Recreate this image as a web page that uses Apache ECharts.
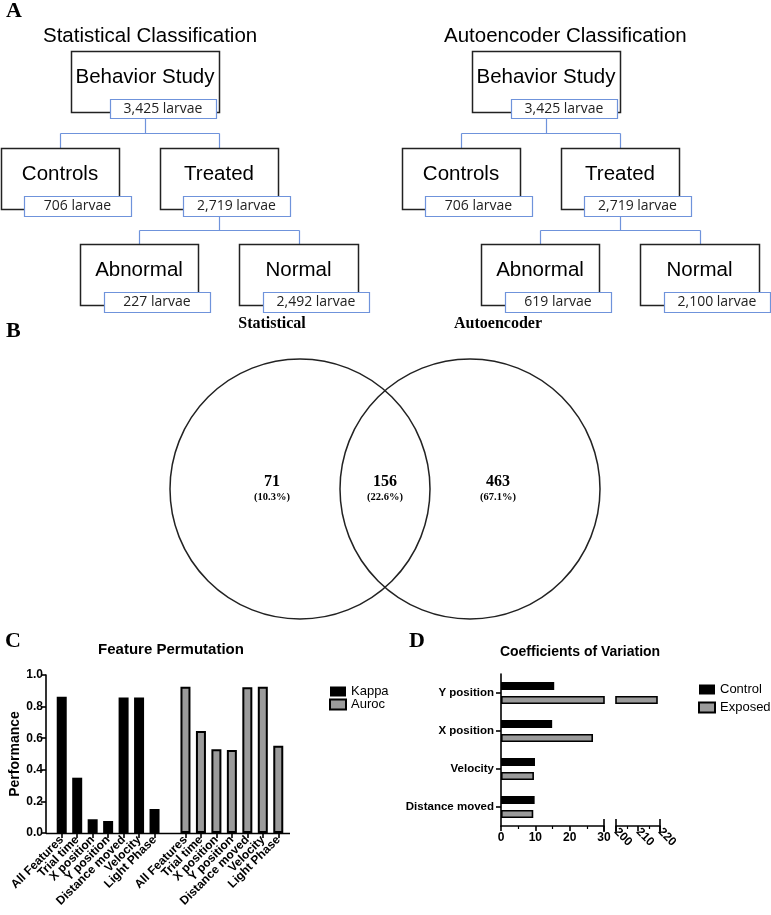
<!DOCTYPE html>
<html><head><meta charset="utf-8">
<script src="https://cdn.jsdelivr.net/npm/echarts@6/dist/echarts.min.js"></script>
<style>html,body{margin:0;padding:0;background:#fff}#c{width:771px;height:915px}</style>
</head><body><div id="c"></div>
<script>
// ---------- Panel A data ----------
const flowTitles = ['Statistical Classification', 'Autoencoder Classification'];
const nodeNames = ['Behavior Study', 'Controls', 'Treated', 'Abnormal', 'Normal'];
const statisticalCounts = ['3,425', '706', '2,719', '227', '2,492'];
const autoencoderCounts = ['3,425', '706', '2,719', '619', '2,100'];
const countUnit = 'larvae';
// ---------- Panel B data ----------
const vennSets = ['Statistical', 'Autoencoder'];
const vennCounts = [71, 156, 463];
const vennPercents = ['10.3%', '22.6%', '67.1%'];
// ---------- Panel C data ----------
const featureLabels = ['All Features', 'Trial time', 'X position', 'Y position', 'Distance moved', 'Velocity', 'Light Phase'];
const kappaValues = [0.863, 0.35, 0.087, 0.076, 0.858, 0.858, 0.152];
const aurocValues = [0.925, 0.645, 0.53, 0.525, 0.922, 0.925, 0.553];
// ---------- Panel D data ----------
const cvCategories = ['Y position', 'X position', 'Velocity', 'Distance moved'];
const controlCV = [15.5, 14.9, 9.9, 9.8];
const exposedCV = [219, 26.8, 9.6, 9.4];

// ---------- layout / style ----------
const SANS = '"Liberation Sans", Arial, sans-serif';
const SERIF = '"Liberation Serif", "Times New Roman", serif';
const BLUE = '#6f93db';
const GRAY = '#9b9b9b';
const nodeLayout = [
  {x: 71, y: 51, w: 148, h: 61, lx: 110, ly: 99, lw: 106, lh: 19},
  {x: 1, y: 148, w: 118, h: 61, lx: 24, ly: 196, lw: 107, lh: 20},
  {x: 160, y: 148, w: 118, h: 61, lx: 183, ly: 196, lw: 107, lh: 20},
  {x: 80, y: 244, w: 118, h: 61, lx: 104, ly: 292, lw: 106, lh: 20},
  {x: 239, y: 244, w: 119, h: 61, lx: 263, ly: 292, lw: 106, lh: 20}
];
const treeEdges = [[0, 1, 2], [2, 3, 4]];
const panelX = [0, 401];
const vennLayout = {cx: [300, 470], cy: 489, r: 130, labelX: [272, 385, 498], setLabelY: 324};

const g = [];
function txt(x, y, text, font, align, valign, fill) {
  align = align || 'center'; valign = valign || 'middle';
  g.push({type: 'text', x: x, y: y, silent: true, z: 10,
    style: {text: text, font: font, fill: fill || '#000', align: align, verticalAlign: valign,
            textAlign: align, textVerticalAlign: valign}});
}
function line(x1, y1, x2, y2, stroke, w, z) {
  g.push({type: 'line', silent: true, z: z || 5, shape: {x1: x1, y1: y1, x2: x2, y2: y2},
    style: {stroke: stroke, lineWidth: w}});
}
function rect(x, y, w, h, fill, stroke, lw, z) {
  g.push({type: 'rect', silent: true, z: z || 5, shape: {x: x, y: y, width: w, height: h},
    style: {fill: fill, stroke: stroke, lineWidth: lw}});
}

// Panel letters
txt(6, 11, 'A', 'bold 22px ' + SERIF, 'left');
txt(6, 331, 'B', 'bold 22px ' + SERIF, 'left');
txt(5, 641, 'C', 'bold 22px ' + SERIF, 'left');
txt(409, 641, 'D', 'bold 22px ' + SERIF, 'left');

// Panel A flowcharts
const allCounts = [statisticalCounts, autoencoderCounts];
panelX.forEach(function (ox, p) {
  txt(43 + ox, 36, flowTitles[p], '20.5px ' + SANS, 'left');
  treeEdges.forEach(function (e) {
    const P = nodeLayout[e[0]], A = nodeLayout[e[1]], B = nodeLayout[e[2]];
    const px = Math.round(ox + P.x + P.w / 2) + 0.5, top = P.ly + P.lh;
    const ax = Math.round(ox + A.x + A.w / 2) + 0.5, bx = Math.round(ox + B.x + B.w / 2) + 0.5;
    const cy = Math.round((top + A.y) / 2) + 0.5;
    line(px, top, px, cy, BLUE, 1.2);
    line(ax, cy, bx, cy, BLUE, 1.2);
    line(ax, cy, ax, A.y, BLUE, 1.2);
    line(bx, cy, bx, B.y, BLUE, 1.2);
  });
  nodeLayout.forEach(function (n, i) {
    rect(ox + n.x + 0.5, n.y + 0.5, n.w, n.h, '#fff', '#222', 1.5, 6);
    txt(ox + n.x + n.w / 2, n.y + 26, nodeNames[i], '20.5px ' + SANS);
    rect(ox + n.lx + 0.5, n.ly + 0.5, n.lw, n.lh, '#fff', BLUE, 1.2, 8);
    txt(ox + n.lx + n.lw / 2, n.ly + n.lh / 2 + 0.5, allCounts[p][i] + ' ' + countUnit, '14px "Open Sans", ' + SANS, 'center', 'middle', '#222');
  });
});

// Panel B Venn
vennLayout.cx.forEach(function (cx) {
  g.push({type: 'circle', silent: true, z: 5, shape: {cx: cx, cy: vennLayout.cy, r: vennLayout.r},
    style: {fill: 'none', stroke: '#222', lineWidth: 1.5}});
});
txt(vennLayout.labelX[0], vennLayout.setLabelY, vennSets[0], 'bold 16px ' + SERIF);
txt(vennLayout.labelX[2], vennLayout.setLabelY, vennSets[1], 'bold 16px ' + SERIF);
vennCounts.forEach(function (c, i) {
  txt(vennLayout.labelX[i], 482, String(c), 'bold 16px ' + SERIF);
  txt(vennLayout.labelX[i], 497, '(' + vennPercents[i] + ')', 'bold 10.5px ' + SERIF);
});

// Panel C / D titles
txt(171, 650, 'Feature Permutation', 'bold 15px ' + SANS);
txt(580, 652, 'Coefficients of Variation', 'bold 14px ' + SANS);
// C x axis baseline (spans from y axis to end)
line(46, 833.5, 290, 833.5, '#000', 1.6, 20);
// D axis break caps
[604, 616, 660].forEach(function (x) { line(x, 819, x, 832, '#000', 1.6, 20); });

const emptyC = featureLabels.map(function () { return '-'; });
const catC = featureLabels.map(function (f) { return 'K:' + f; }).concat([' '], featureLabels.map(function (f) { return 'A:' + f; }));

const axisLabelStyle = {color: '#000', fontFamily: SANS, fontWeight: 'bold', fontSize: 12};
const blackLine = {color: '#000', width: 1.6};

const option = {
  animation: false,
  backgroundColor: '#fff',
  graphic: {elements: g},
  legend: [
    {data: ['Kappa', 'Auroc'], orient: 'vertical', left: 324, top: 680, itemWidth: 16, itemHeight: 10, itemGap: 0,
     icon: 'rect', textStyle: {color: '#000', fontFamily: SANS, fontSize: 13, lineHeight: 12}, selectedMode: false},
    {data: ['Control', 'Exposed'], orient: 'vertical', left: 693, top: 678, itemWidth: 16, itemHeight: 10, itemGap: 5,
     icon: 'rect', textStyle: {color: '#000', fontFamily: SANS, fontSize: 13}, selectedMode: false}
  ],
  grid: [
    {left: 54, top: 675, width: 232, height: 158},
    {left: 501, top: 674, width: 103, height: 152},
    {left: 616, top: 674, width: 44, height: 152}
  ],
  xAxis: [
    {gridIndex: 0, type: 'category', data: catC,
     axisLine: {show: false},
     axisTick: {show: true, alignWithLabel: true, length: 5, lineStyle: blackLine,
                interval: function (i, v) { return v.trim() !== ''; }},
     axisLabel: Object.assign({}, axisLabelStyle, {interval: 0, rotate: 45, margin: 5,
                formatter: function (v) { return v.split(':').pop(); }})},
    {gridIndex: 1, type: 'value', min: 0, max: 30, interval: 10,
     axisLine: {show: true, lineStyle: blackLine},
     axisTick: {show: true, length: 5, lineStyle: blackLine},
     minorTick: {show: true, splitNumber: 2, length: 3, lineStyle: {color: '#000', width: 1.2}},
     splitLine: {show: false},
     axisLabel: Object.assign({}, axisLabelStyle, {margin: 6})},
    {gridIndex: 2, type: 'value', min: 200, max: 220, interval: 10,
     axisLine: {show: true, lineStyle: blackLine},
     axisTick: {show: true, length: 5, lineStyle: blackLine},
     minorTick: {show: true, splitNumber: 2, length: 3, lineStyle: {color: '#000', width: 1.2}},
     splitLine: {show: false},
     axisLabel: Object.assign({}, axisLabelStyle, {rotate: -45, margin: 4})}
  ],
  yAxis: [
    {gridIndex: 0, type: 'value', min: 0, max: 1, interval: 0.2, offset: 8,
     name: 'Performance', nameLocation: 'middle', nameGap: 24,
     nameTextStyle: {color: '#000', fontFamily: SANS, fontWeight: 'bold', fontSize: 14},
     axisLine: {show: true, lineStyle: blackLine},
     axisTick: {show: true, length: 5, lineStyle: blackLine},
     splitLine: {show: false},
     axisLabel: Object.assign({}, axisLabelStyle, {margin: 3, formatter: function (v) { return v.toFixed(1); }})},
    {gridIndex: 1, type: 'category', inverse: true, data: cvCategories,
     axisLine: {show: true, lineStyle: blackLine},
     axisTick: {show: true, alignWithLabel: true, length: 5, lineStyle: blackLine},
     axisLabel: Object.assign({}, axisLabelStyle, {fontSize: 11.5, margin: 7})},
    {gridIndex: 2, type: 'category', inverse: true, data: cvCategories, show: false}
  ],
  series: [
    {name: 'Kappa', type: 'bar', xAxisIndex: 0, yAxisIndex: 0, barWidth: 10, barGap: '-100%',
     data: kappaValues.concat(['-'], emptyC), itemStyle: {color: '#000'}},
    {name: 'Auroc', type: 'bar', xAxisIndex: 0, yAxisIndex: 0, barWidth: 10, barGap: '-100%',
     data: emptyC.concat(['-'], aurocValues), itemStyle: {color: GRAY, borderColor: '#000', borderWidth: 2}},
    {name: 'Control', type: 'bar', xAxisIndex: 1, yAxisIndex: 1, barWidth: 8, barGap: '75%', clip: true,
     data: controlCV, itemStyle: {color: '#000'}},
    {name: 'Exposed', type: 'bar', xAxisIndex: 1, yAxisIndex: 1, barWidth: 8, barGap: '75%', clip: true,
     data: exposedCV, itemStyle: {color: GRAY, borderColor: '#000', borderWidth: 1.6}},
    {name: 'Control', type: 'bar', xAxisIndex: 2, yAxisIndex: 2, barWidth: 8, barGap: '75%', clip: true,
     data: controlCV, itemStyle: {color: '#000'}},
    {name: 'Exposed', type: 'bar', xAxisIndex: 2, yAxisIndex: 2, barWidth: 8, barGap: '75%', clip: true,
     data: exposedCV, itemStyle: {color: GRAY, borderColor: '#000', borderWidth: 1.6}}
  ]
};
const chart = echarts.init(document.getElementById('c'), null, {renderer: 'canvas', width: 771, height: 915});
chart.setOption(option);
</script>
</body></html>
